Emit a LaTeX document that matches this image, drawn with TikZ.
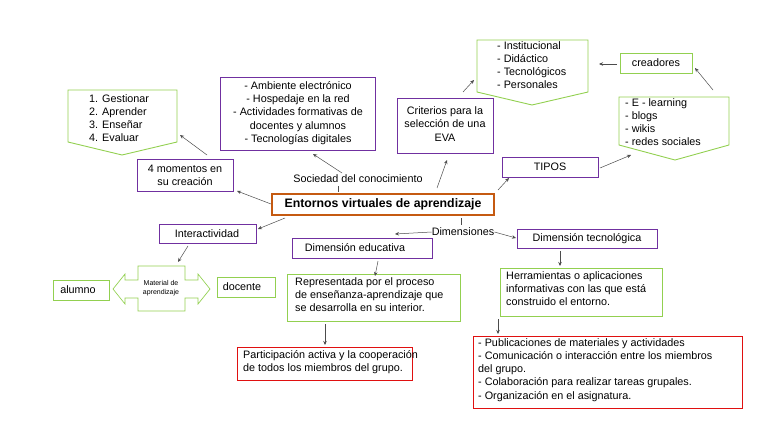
\documentclass[tikz,border=0pt]{standalone}
\usepackage{fontspec}
\setmainfont{Liberation Sans}
\usetikzlibrary{arrows.meta}
\definecolor{gr}{HTML}{92D050}
\definecolor{pu}{HTML}{7030A0}
\definecolor{rd}{HTML}{E01010}
\definecolor{og}{HTML}{C55A11}
\begin{document}
\begin{tikzpicture}[x=1pt,y=-1pt,
  tx/.style={font=\fontsize{10.8}{13.3}\selectfont,align=center,inner sep=0pt},
  tl/.style={font=\fontsize{10.8}{13.3}\selectfont,align=left,inner sep=0pt,anchor=north west},
  gbox/.style={draw=gr,line width=0.9pt},
  pbox/.style={draw=pu,line width=0.9pt},
  rbox/.style={draw=rd,line width=0.9pt},
  ar/.style={draw=black!70,line width=0.5pt,-{Stealth[length=4pt,width=3.5pt]}}]
\useasboundingbox (0,0) rectangle (768,433);
% Gestionar pentagon
\draw[gbox] (68,90) -- (177,90) -- (177,142) -- (122,155) -- (68,142) -- cycle;
\node[tl] (gest) at (89,94) {1. Gestionar\\2. Aprender\\3. Enseñar\\4. Evaluar};
% 4 momentos
\draw[pbox] (137,159) rectangle (233,191);
\node[tx] (mom) at (185,175) {4 momentos en\\su creación};
% Ambiente
\draw[pbox] (220,77) rectangle (375,150);
\node[tx] (amb) at (298,113) {- Ambiente electrónico\\- Hospedaje en la red\\- Actividades formativas de\\docentes y alumnos\\- Tecnologías digitales};
% Criterios
\draw[pbox] (397,98) rectangle (493,153);
\node[tx] (crit) at (445,124) {Criterios para la\\selección de una\\EVA};
% Institucional
\draw[gbox] (477,40) -- (588,40) -- (588,92) -- (532,105) -- (477,92) -- cycle;
\node[tl] (inst) at (497,41) {- Institucional\\- Didáctico\\- Tecnológicos\\- Personales};
% creadores
\draw[gbox] (620,53) rectangle (692,73);
\node[tx] (crea) at (656,63) {creadores};
% E-learning
\draw[gbox] (619,97) -- (729,97) -- (729,145) -- (675,160) -- (619,145) -- cycle;
\node[tl] (elea) at (625,98) {- E - learning\\- blogs\\- wikis\\- redes sociales};
% TIPOS
\draw[pbox] (502,157) rectangle (598,177);
\node[tx] (tipos) at (550,167) {TIPOS};
% Main
\draw[draw=og,line width=1.3pt] (272,194) rectangle (494,215);
\node[tx,font=\fontsize{12.3}{14}\selectfont\bfseries] (main) at (383,204.5) {Entornos virtuales de aprendizaje};
\node[tx] (soc) at (358,179) {Sociedad del conocimiento};
\draw[black!70] (338,186) -- (338,192);
% Interactividad
\draw[pbox] (159,224) rectangle (256,243);
\node[tx] (inter) at (207,234) {Interactividad};
% Material cross arrow
\draw[gbox,line width=0.7pt] (138,266) -- (185,266) -- (185,280) -- (198,280) -- (198,274) -- (210,289) -- (198,304) -- (198,298) -- (185,298) -- (185,311) -- (138,311) -- (138,298) -- (125,298) -- (125,304) -- (113,289) -- (125,274) -- (125,280) -- (138,280) -- cycle;
\node[tx,font=\fontsize{7}{9}\selectfont] (mat) at (161,288) {Material de\\aprendizaje};
\draw[gbox] (53,280) rectangle (109,300);
\node[tx] (alu) at (78,290) {alumno};
\draw[gbox] (217,277) rectangle (275,297);
\node[tx] (doc) at (242,287) {docente};
% Dimensiones
\node[tx] (dims) at (463,232) {Dimensiones};
\draw[black!70] (461,218) -- (461,225);
\draw[pbox] (292,238) rectangle (432,258);
\node[tx] (deduc) at (355,248) {Dimensión educativa};
\draw[gbox] (287,274) rectangle (460,321);
\node[tl] (repr) at (295,277) {Representada por el proceso\\de enseñanza-aprendizaje que\\se desarrolla en su interior.};
\draw[rbox] (237,347) rectangle (412,380);
\node[tl] (part) at (243,350) {Participación activa y la cooperación\\de todos los miembros del grupo.};
\draw[pbox] (517,229) rectangle (657,248);
\node[tx] (dtec) at (587,239) {Dimensión tecnológica};
\draw[gbox] (500,268) rectangle (662,316);
\node[tl] (herr) at (506,271) {Herramientas o aplicaciones\\informativas con las que está\\construido el entorno.};
\draw[rbox] (473,336) rectangle (742,408);
\node[tl] (pub) at (478,338) {- Publicaciones de materiales y actividades\\- Comunicación o interacción entre los miembros\\del grupo.\\- Colaboración para realizar tareas grupales.\\- Organización en el asignatura.};
% arrows
\coordinate (a1) at (207,155); \coordinate (a1e) at (180,135);
\draw[ar] (a1) -- (a1e);
\coordinate (a2) at (271,204); \coordinate (a2e) at (237,191);
\draw[ar] (a2) -- (a2e);
\coordinate (a3) at (342,173); \coordinate (a3e) at (313,154);
\draw[ar] (a3) -- (a3e);
\coordinate (a4) at (437,188); \coordinate (a4e) at (447,160);
\draw[ar] (a4) -- (a4e);
\coordinate (a5) at (463,92); \coordinate (a5e) at (474,80);
\draw[ar] (a5) -- (a5e);
\coordinate (a6) at (617,64); \coordinate (a6e) at (599,64);
\draw[ar] (a6) -- (a6e);
\coordinate (a7) at (713,90); \coordinate (a7e) at (695,68);
\draw[ar] (a7) -- (a7e);
\coordinate (a8) at (498,190); \coordinate (a8e) at (509,178);
\draw[ar] (a8) -- (a8e);
\coordinate (a9) at (600,168); \coordinate (a9e) at (631,155);
\draw[ar] (a9) -- (a9e);
\coordinate (a10) at (285,218); \coordinate (a10e) at (258,229);
\draw[ar] (a10) -- (a10e);
\coordinate (a11) at (188,246); \coordinate (a11e) at (178,262);
\draw[ar] (a11) -- (a11e);
\draw[ar] (dims.west) -- (395,234);
\draw[ar] (dims.east) -- (516,238);
\coordinate (a12) at (378,261); \coordinate (a12e) at (375,276);
\draw[ar] (a12) -- (a12e);
\coordinate (a13) at (325,324); \coordinate (a13e) at (325,345);
\draw[ar] (a13) -- (a13e);
\coordinate (a14) at (560,251); \coordinate (a14e) at (560,266);
\draw[ar] (a14) -- (a14e);
\coordinate (a15) at (498,319); \coordinate (a15e) at (498,334);
\draw[ar] (a15) -- (a15e);
\end{tikzpicture}
\end{document}
